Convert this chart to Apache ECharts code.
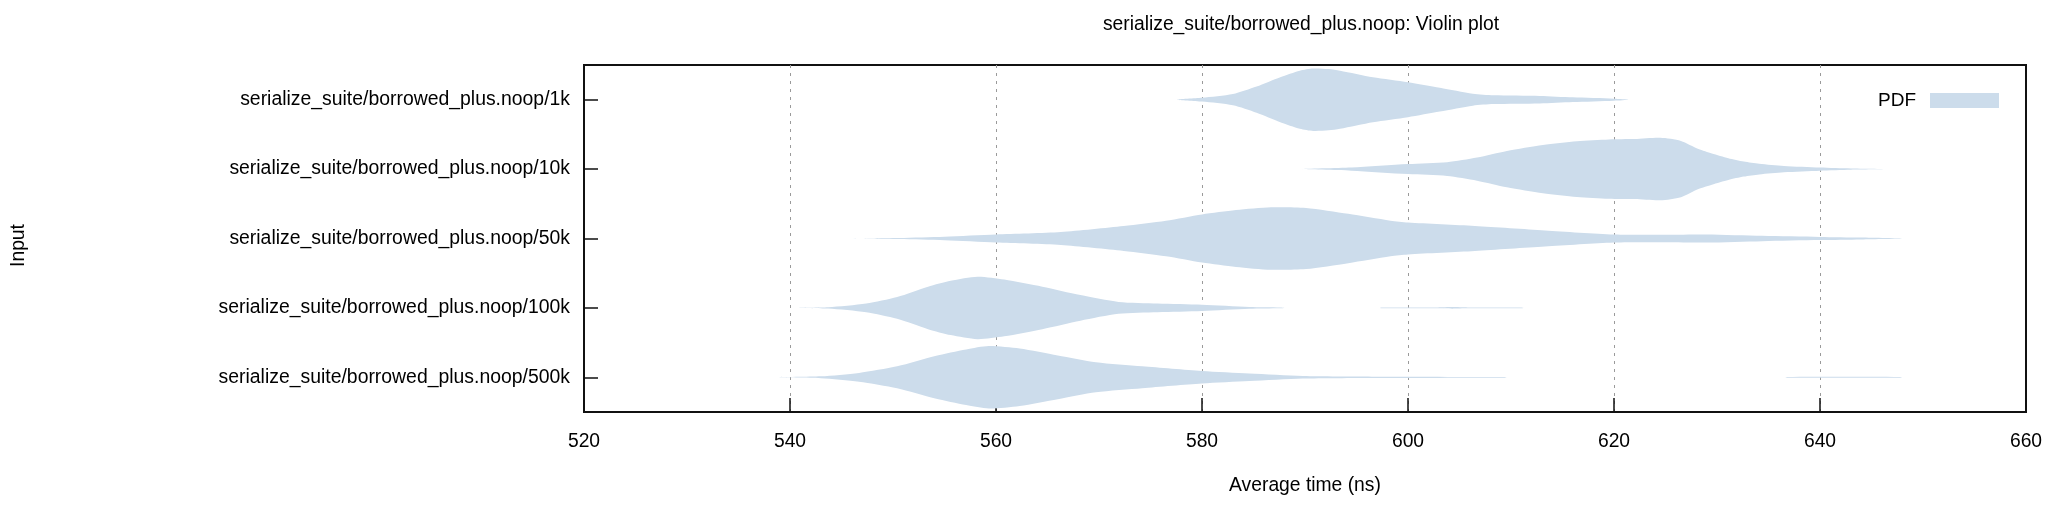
<!DOCTYPE html>
<html>
<head>
<meta charset="utf-8">
<script src="https://cdn.jsdelivr.net/npm/echarts@6/dist/echarts.min.js"></script>
<style>
html,body{margin:0;padding:0;background:#fff;}
#chart{width:2048px;height:510px;}
</style>
</head>
<body>
<div id="chart"></div>
<script>
const categories = [
  'serialize_suite/borrowed_plus.noop/1k',
  'serialize_suite/borrowed_plus.noop/10k',
  'serialize_suite/borrowed_plus.noop/50k',
  'serialize_suite/borrowed_plus.noop/100k',
  'serialize_suite/borrowed_plus.noop/500k'
];
const xTicks = [520, 540, 560, 580, 600, 620, 640, 660];

const times1k = [577.6, 580, 583.0, 585.3, 587.6, 589.5, 590.8, 592.3, 593.4, 596.6, 600, 603.1, 606.3, 608.3, 612.8, 616, 620, 621.4];
const pdf1k   = [0, 0.06, 0.18, 0.42, 0.72, 0.93, 1.0, 0.98, 0.93, 0.72, 0.56, 0.38, 0.19, 0.14, 0.12, 0.075, 0.03, 0];

const times10k = [589.7, 594.5, 600, 603.8, 606.7, 609.6, 613.1, 616.4, 619.5, 622, 624.5, 626.5, 628.2, 629.5, 631.1, 632.6, 634.1, 636.5, 640, 643, 646.4];
const pdf10k   = [0, 0.05, 0.16, 0.22, 0.37, 0.58, 0.77, 0.89, 0.95, 0.96, 1.0, 0.9, 0.64, 0.5, 0.35, 0.24, 0.17, 0.1, 0.05, 0.02, 0];

const times50k = [545.5, 550.6, 555, 560, 566.3, 572.4, 576.5, 580, 583.3, 586.7, 590.1, 594.2, 598.3, 600, 606.5, 613.3, 620, 625, 629, 634.4, 640, 644, 648];
const pdf50k   = [0, 0.02, 0.06, 0.13, 0.21, 0.40, 0.57, 0.77, 0.91, 1.0, 0.98, 0.79, 0.57, 0.51, 0.40, 0.26, 0.13, 0.12, 0.13, 0.085, 0.05, 0.03, 0];

const times100k = [540.9, 543.7, 547.4, 550.4, 553.4, 555.6, 558.2, 560.8, 564.5, 568.2, 571.9, 575.7, 580, 584.6, 587.6, 588, 597.3, 597.4, 602.9, 604.3, 605.8, 611.0, 611.2];
const pdf100k   = [0, 0.02, 0.14, 0.35, 0.68, 0.87, 1.0, 0.91, 0.68, 0.41, 0.19, 0.14, 0.10, 0.03, 0.015, 0, 0, 0.012, 0.015, 0.025, 0.015, 0.012, 0];

const times500k = [538.9, 543, 546.7, 550.4, 554.1, 557.1, 559.3, 562.3, 566, 569.7, 574.2, 580, 584.6, 589.8, 596.5, 609.4, 609.6, 636.6, 636.8, 642, 647.8, 648];
const pdf500k   = [0, 0.03, 0.14, 0.35, 0.68, 0.89, 1.0, 0.92, 0.70, 0.48, 0.35, 0.20, 0.12, 0.04, 0.02, 0.012, 0, 0, 0.012, 0.018, 0.012, 0];

const violinTimes = [times1k, times10k, times50k, times100k, times500k];
const violinPdf = [pdf1k, pdf10k, pdf50k, pdf100k, pdf500k];

const FONT = '"Liberation Sans", Arial, Helvetica, sans-serif';
const FILL = 'rgb(204,220,235)';

function violinPieces(t, d) {
  // split at zero points so that separate lobes are drawn as separate shapes
  const zeros = [];
  for (let i = 0; i < d.length; i++) if (d[i] === 0) zeros.push(i);
  const pieces = [];
  for (let k = 0; k < zeros.length - 1; k++) {
    const a = zeros[k], b = zeros[k + 1];
    if (b - a > 1) pieces.push([a, b]);
  }
  return pieces;
}

const chart = echarts.init(document.getElementById('chart'), null, {renderer: 'canvas'});
chart.setOption({
  animation: false,
  backgroundColor: '#fff',
  title: {
    text: 'serialize_suite/borrowed_plus.noop: Violin plot',
    left: 1296, textAlign: 'center', top: 10,
    textStyle: {fontFamily: FONT, fontSize: 19.3, fontWeight: 'normal', color: '#000'}
  },
  legend: {
    data: [{name: 'PDF', icon: 'rect'}],
    right: 44, top: 86, align: 'right',
    itemWidth: 69, itemHeight: 15,
    textStyle: {fontFamily: FONT, fontSize: 19, color: '#000', padding: [0, 9, 0, 0]}
  },
  grid: {
    left: 584, right: 22, top: 65, bottom: 98,
    show: true, borderColor: '#111', borderWidth: 2, containLabel: false
  },
  xAxis: {
    type: 'value', min: xTicks[0], max: xTicks[xTicks.length - 1], interval: 20,
    name: 'Average time (ns)', nameLocation: 'middle', nameGap: 64,
    nameTextStyle: {fontFamily: FONT, fontSize: 19.3, color: '#000'},
    axisLine: {show: true, lineStyle: {color: '#111', width: 2}},
    axisTick: {show: true, inside: true, length: 14, lineStyle: {color: '#111', width: 1.5}},
    axisLabel: {margin: 20, fontFamily: FONT, fontSize: 19.3, color: '#000'},
    splitLine: {show: true, showMinLine: false, showMaxLine: false, lineStyle: {color: '#9a9a9a', width: 1, type: [3, 5]}}
  },
  yAxis: {
    type: 'category', data: categories, inverse: true,
    name: 'Input', nameLocation: 'middle', nameGap: 556, nameRotate: 90,
    nameTextStyle: {fontFamily: FONT, fontSize: 19.3, color: '#000', padding: [0, 14, 0, 0]},
    axisLine: {show: true, lineStyle: {color: '#111', width: 2}},
    axisTick: {show: true, inside: true, length: 14, alignWithLabel: true, lineStyle: {color: '#111', width: 1.5}},
    axisLabel: {margin: 14, fontFamily: FONT, fontSize: 19.4, color: '#000'},
    splitLine: {show: false}
  },
  series: [{
    name: 'PDF',
    type: 'custom',
    itemStyle: {color: FILL},
    data: categories.map((c, i) => [violinTimes[i][0], i]),
    encode: {x: 0, y: 1},
    renderItem: function (params, api) {
      const idx = api.value(1);
      const t = violinTimes[idx], d = violinPdf[idx];
      const band = api.size([0, 1])[1];
      const half = band * 0.45;
      const children = violinPieces(t, d).map(([a, b]) => {
        const upper = [], lower = [];
        for (let i = a; i <= b; i++) {
          const p = api.coord([t[i], idx]);
          upper.push([p[0], p[1] - d[i] * half]);
          if (i > a && i < b) lower.push([p[0], p[1] + d[i] * half]);
        }
        lower.reverse();
        return {
          type: 'polygon',
          shape: {points: upper.concat(lower), smooth: 0.25},
          style: {fill: FILL}
        };
      });
      return {type: 'group', children: children};
    }
  }]
});
</script>
</body>
</html>
